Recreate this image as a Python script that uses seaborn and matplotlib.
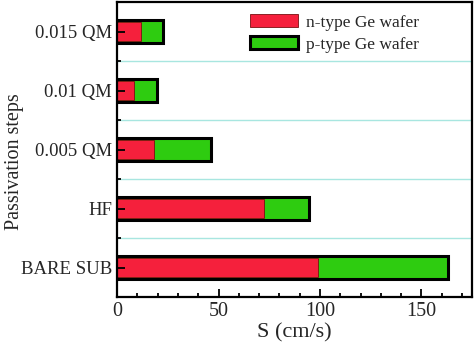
import matplotlib
matplotlib.use("Agg")
import matplotlib.pyplot as plt
import seaborn as sns
import pandas as pd
from matplotlib.patches import Patch
from matplotlib.ticker import MultipleLocator, FixedLocator

categories = ["0.015 QM", "0.01 QM", "0.005 QM", "HF", "BARE SUB"]
n_type = [12, 8.3, 18.3, 72.5, 99]
p_type = [22.8, 19.5, 46.4, 94.6, 163]

df = pd.DataFrame({"step": categories, "n": n_type, "p": p_type})

sns.set_style("white")
plt.rcParams["font.family"] = ["Liberation Serif", "DejaVu Serif"]

fig = plt.figure(figsize=(4.74, 3.47), dpi=100)
ax = fig.add_axes([0.247, 0.144, 0.749, 0.850])

red = "#f5203c"
green = "#2ecc10"

sns.barplot(data=df, x="p", y="step", order=categories, orient="h", color=green,
            width=0.38, edgecolor="black", linewidth=2.2, saturation=1, ax=ax)
sns.barplot(data=df, x="n", y="step", order=categories, orient="h", color=red,
            width=0.31, edgecolor="#7a1010", linewidth=0.6, saturation=1, ax=ax)

ax.set_xlim(0, 175)
ax.set_ylim(4.5, -0.5)
ax.set_axisbelow(False)

for yv in [0.5, 1.5, 2.5, 3.5]:
    ax.axhline(yv, color="#a8e6e0", lw=1.0, zorder=0)

ax.xaxis.set_major_locator(MultipleLocator(50))
ax.xaxis.set_minor_locator(MultipleLocator(10))
ax.yaxis.set_minor_locator(FixedLocator([0.5, 1.5, 2.5, 3.5]))
ax.tick_params(axis="both", which="both", direction="in", color="black", width=1.3)
ax.tick_params(axis="x", which="major", labelsize=14.5, length=6)
ax.tick_params(axis="y", which="major", labelsize=13.5, length=6)
ax.tick_params(axis="both", which="minor", length=3)
ax.tick_params(axis="x", which="both", top=False, bottom=True)
ax.tick_params(axis="y", which="both", left=True, right=False)

for s in ax.spines.values():
    s.set_linewidth(1.6)
    s.set_color("black")

ax.set_xlabel("S (cm/s)", fontsize=16, labelpad=2)
ax.set_ylabel("Passivation steps", fontsize=14.5)
ax.yaxis.set_label_coords(-0.262, 0.46)

handles = [Patch(facecolor=red, edgecolor="#7a1010", linewidth=0.6),
           Patch(facecolor=green, edgecolor="black", linewidth=2.2)]
ax.legend(handles, ["n-type Ge wafer", "p-type Ge wafer"], loc="upper left",
          bbox_to_anchor=(0.33, 1.012), frameon=False, fontsize=12.5,
          handlelength=2.8, handleheight=0.8, handletextpad=0.45,
          labelspacing=0.3, borderaxespad=0.5)

fig.savefig("out.png", dpi=100)
